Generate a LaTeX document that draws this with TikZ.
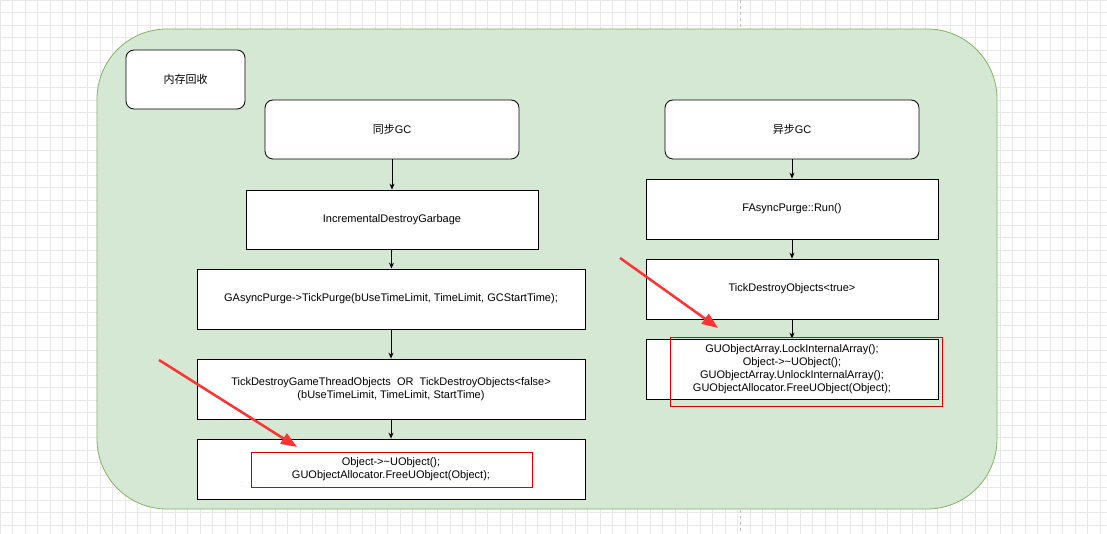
\documentclass[tikz,border=0pt]{standalone}
\usepackage{fontspec}
\setmainfont{Liberation Sans}
\newfontfamily\cjk{Noto Sans CJK SC}
\usetikzlibrary{arrows.meta}
\begin{document}
\begin{tikzpicture}[x=1pt,y=-1pt,
  box/.style={draw=black,fill=white,line width=0.8pt,inner sep=0pt,font=\fontsize{11}{13}\selectfont,align=center},
  rbox/.style={box,rounded corners=8pt},
  conn/.style={-{Stealth[length=6pt,width=5pt]},line width=0.8pt},
  redbox/.style={draw=red!85!black,line width=0.8pt},
  redarrow/.style={draw=red!80!white,line width=2.5pt,-{Triangle[length=16pt,width=12pt]}}]
\useasboundingbox (0,0) rectangle (1107,534);
\fill[white] (0,0) rectangle (1107,534);
\foreach \i in {0,12.5,...,1107} \draw[black!9,line width=0.5pt] (\i,0) -- (\i,534);
\foreach \i in {0,12.5,...,534} \draw[black!9,line width=0.5pt] (0,\i) -- (1107,\i);
\draw[black!25,dashed] (740,0) -- (740,534);
\draw[line width=0.8pt,rounded corners=70pt,fill={rgb,255:red,213;green,232;blue,212},draw={rgb,255:red,130;green,179;blue,102}] (97,29) rectangle (997,509);
\node[rbox,minimum width=119pt,minimum height=59pt] (mem) at (185.5,79.5) {\cjk 内存回收};
\node[rbox,minimum width=254pt,minimum height=59pt] (sync) at (392,129.5) {{\cjk 同步}GC};
\node[box,minimum width=292pt,minimum height=59pt] (inc) at (392,219.5) {IncrementalDestroyGarbage};
\node[box,minimum width=388pt,minimum height=60pt] (gap) at (391,299) {GAsyncPurge->TickPurge(bUseTimeLimit, TimeLimit, GCStartTime);};
\node[box,minimum width=388pt,minimum height=60pt] (tdg) at (391,389) {TickDestroyGameThreadObjects\ \ OR\ \ TickDestroyObjects<false>\\(bUseTimeLimit, TimeLimit, StartTime)};
\node[box,minimum width=388pt,minimum height=60pt] (obj) at (391,469) {Object->\textasciitilde UObject();\\GUObjectAllocator.FreeUObject(Object);};
\node[rbox,minimum width=254pt,minimum height=59pt] (async) at (792,129.5) {{\cjk 异步}GC};
\node[box,minimum width=292pt,minimum height=60pt] (fap) at (792,209) {FAsyncPurge::Run()};
\node[box,minimum width=292pt,minimum height=60pt] (tdo) at (792,289) {TickDestroyObjects<true>};
\node[box,minimum width=292pt,minimum height=60pt] (gua) at (792,369) {GUObjectArray.LockInternalArray();\\Object->\textasciitilde UObject();\\GUObjectArray.UnlockInternalArray();\\GUObjectAllocator.FreeUObject(Object);};
\draw[conn] (sync) -- (inc);
\draw[conn] (inc) -- (gap);
\draw[conn] (gap) -- (tdg);
\draw[conn] (tdg) -- (obj);
\draw[conn] (async) -- (fap);
\draw[conn] (fap) -- (tdo);
\draw[conn] (tdo) -- (gua);
\draw[redbox] (251,452) rectangle (532,487);
\draw[redbox] (670,337) rectangle (942,406);
\coordinate (a1s) at (159,360); \coordinate (a1e) at (297,447);
\coordinate (a2s) at (620,258); \coordinate (a2e) at (718,328);
\draw[redarrow] (a1s) -- (a1e);
\draw[redarrow] (a2s) -- (a2e);
\end{tikzpicture}
\end{document}
